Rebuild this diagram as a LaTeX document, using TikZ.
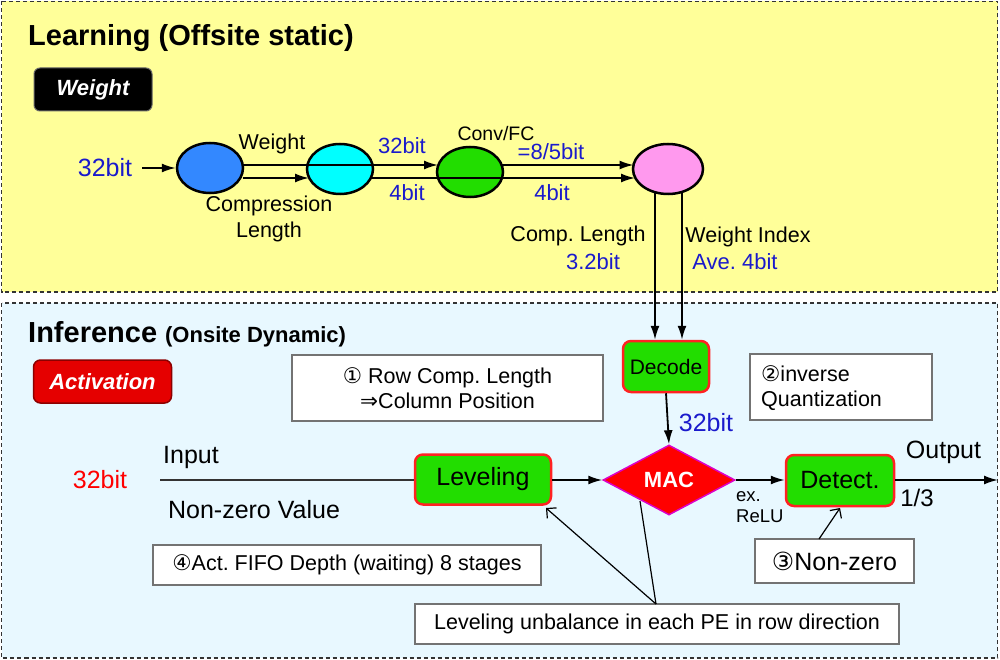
\documentclass[tikz,border=0pt]{standalone}
\usepackage{fontspec}
\setmainfont{Liberation Sans}
\newfontfamily\symf{DejaVu Sans}
\usetikzlibrary{arrows.meta,shapes.geometric}
\newcommand{\fsz}[2]{\fontsize{#1}{#2}\selectfont}
\frenchspacing
\definecolor{panelyel}{RGB}{255,255,153}
\definecolor{panelblu}{RGB}{232,248,255}
\definecolor{bluetxt}{RGB}{26,26,204}
\definecolor{ellblue}{RGB}{51,136,255}
\definecolor{ellcyan}{RGB}{0,255,255}
\definecolor{ellgreen}{RGB}{34,221,0}
\definecolor{ellpink}{RGB}{255,153,238}
\definecolor{boxgreen}{RGB}{34,221,0}
\definecolor{boxred}{RGB}{255,34,34}
\definecolor{macred}{RGB}{255,0,0}
\definecolor{macedge}{RGB}{220,0,200}
\begin{document}
\begin{tikzpicture}[x=1pt,y=-1pt,
  lbl/.style={inner sep=0pt,text=black,font=\fsz{21.5}{25}},
  blu/.style={inner sep=0pt,text=bluetxt,font=\fsz{22}{26}},
  ell/.style={ellipse,draw=black,line width=2.5pt,minimum width=66pt,minimum height=50pt,inner sep=0pt},
  gbox/.style={draw=boxred,fill=boxgreen,line width=2.5pt,rounded corners=8pt,inner sep=0pt},
  nbox/.style={draw=black!55,fill=white,line width=1.3pt,inner sep=0pt},
  conn/.style={line width=1.8pt,-{Latex[length=14pt,width=9pt]}},
  lead/.style={line width=1.2pt,-{Straight Barb[length=7pt,width=14pt]}},
  panel/.style={draw=black!80,dash pattern=on 4pt off 3pt,line width=1.3pt}]
\useasboundingbox (0,0) rectangle (1000,660);
% panels
\path[panel,fill=panelyel] (1.5,1.5) rectangle (997.5,292);
\path[panel,fill=panelblu] (1.5,303) rectangle (997.5,658);
% ---------- Learning ----------
\node[anchor=base west,inner sep=0pt,font=\fsz{29}{34}\bfseries] (ttl1) at (28,46) {Learning (Offsite static)};
\node[fill=black,draw=black!60,line width=1pt,rounded corners=6pt,minimum width=118pt,minimum height=43pt,inner sep=0pt,text=white,font=\fsz{22}{26}\bfseries\itshape] (wbtn) at (93,89.5) {Weight};
\node[blu,font=\fsz{25}{30}] (in32) at (105,168) {32bit};
\node[ell,fill=ellblue] (e1) at (210,168) {};
\node[ell,fill=ellcyan] (e2) at (340,169) {};
\node[ell,fill=ellgreen] (e3) at (470,172) {};
\node[ell,fill=ellpink,minimum width=70pt] (e4) at (668,169) {};
\coordinate (u1s) at (243,165);
\coordinate (u1e) at (438,165);
\coordinate (l1s) at (242.5,178);
\coordinate (l1e) at (309,178);
\coordinate (l2s) at (371,178);
\coordinate (l2e) at (635,178);
\coordinate (u2s) at (502,165);
\coordinate (u2e) at (633.5,165);
\draw[conn] (in32.east) ++(10,0) coordinate (ins) (ins) -- (e1.west);
\draw[conn] (u1s) -- (u1e);
\draw[conn] (l1s) -- (l1e);
\draw[conn] (l2s) -- (l2e);
\draw[conn] (u2s) -- (u2e);
\node[lbl] (lw) at (272,144) {Weight};
\node[lbl,align=center,font=\fsz{21.5}{26}] (lcl) at (269,219) {Compression\\Length};
\node[blu] (l32a) at (402,146) {32bit};
\node[blu] (l4a) at (407,193) {4bit};
\node[lbl,font=\fsz{19.5}{23}] (lcf) at (496,134) {Conv/FC};
\node[blu] (l85) at (551,152) {=8/5bit};
\node[blu] (l4b) at (552,193) {4bit};
\node[lbl] (lcomp) at (578,236) {Comp. Length};
\node[blu] (l32b) at (593,262) {3.2bit};
\node[lbl] (lwi) at (748,237) {Weight Index};
\node[blu] (lave) at (735,262) {Ave. 4bit};
% ---------- Inference ----------
\node[anchor=base west,inner sep=0pt] (ttl2) at (28,342) {{\fsz{29}{34}\bfseries Inference}\hspace{8pt}{\fsz{22}{26}\bfseries (Onsite Dynamic)}};
\node[fill=red!90!black,draw=red!55!black,line width=1.5pt,rounded corners=7pt,minimum width=138pt,minimum height=43pt,inner sep=0pt,text=white,font=\fsz{22}{26}\bfseries\itshape] (abtn) at (102.5,381.5) {Activation};
\node[gbox,minimum width=86pt,minimum height=51pt,font=\fsz{21}{25}] (dec) at (666,366.5) {Decode};
\coordinate (p1) at (655,192);
\coordinate (p2) at (682,192);
\draw[conn] (p1) -- (p1 |- dec.north);
\draw[conn] (p2) -- (p2 |- dec.north);
\node[nbox,minimum width=311pt,minimum height=66pt,align=center,font=\fsz{21.5}{25}] (b1) at (447.5,388) {{\symf\char"2460}\ Row Comp. Length\\{\symf\char"21D2}Column Position};
\node[nbox,minimum width=182pt,minimum height=66pt] (b2) at (841,387) {};
\node[lbl,anchor=west,align=left] (b2t) at (761,388.5) {{\symf\char"2461}inverse\\Quantization};
\node[diamond,fill=macred,draw=macedge,line width=1.5pt,aspect=1.886,minimum width=132pt,minimum height=70pt,inner sep=0pt,text=white,font=\fsz{22}{26}\bfseries] (mac) at (669,480) {MAC};
\draw[conn] (dec.south) -- (mac.north);
\node[blu,font=\fsz{25}{30}] (l32c) at (706,423) {32bit};
\node[inner sep=0pt,text=macred,font=\fsz{25}{30}] (in32r) at (100,480) {32bit};
\node[gbox,minimum width=136pt,minimum height=50pt,font=\fsz{25}{30}] (lev) at (483,479.5) {Leveling};
\coordinate (ins2) at (160,480);
\draw[line width=1.8pt,black!80] (ins2) -- (lev.west |- ins2);
\node[lbl,font=\fsz{25}{30}] (linp) at (191,457) {Input};
\node[lbl,font=\fsz{25}{30}] (lnz) at (254,510) {Non-zero Value};
\draw[conn] (lev.east |- mac.west) -- (mac.west);
\node[gbox,minimum width=108pt,minimum height=51pt,font=\fsz{25}{30}] (det) at (840,480.5) {Detect.};
\draw[conn] (mac.east) -- (det.west |- mac.east);
\coordinate (outp) at (998,480);
\draw[conn] (det.east |- outp) -- (outp);
\node[lbl,font=\fsz{25}{30}] (lout) at (943.5,452) {Output};
\node[lbl,font=\fsz{24}{29}] (l13) at (917,498) {1/3};
\node[lbl,anchor=west,align=left,font=\fsz{18.5}{21}] (lrelu) at (736,507) {ex.\\ReLU};
\node[nbox,minimum width=159pt,minimum height=44pt,font=\fsz{25}{30}] (b3) at (834.5,561) {{\symf\char"2462}Non-zero};
\coordinate (b3a) at (819,539);
\coordinate (deta) at (840,508);
\draw[lead] (b3a) -- (deta);
\node[nbox,minimum width=388pt,minimum height=40pt,font=\fsz{21.5}{25}] (b4) at (347,565) {{\symf\char"2463}Act. FIFO Depth (waiting) 8 stages};
\node[nbox,minimum width=484pt,minimum height=40pt,font=\fsz{21.5}{25}] (bu) at (657,624) {Leveling unbalance in each PE in row direction};
\coordinate (apx) at (656,604);
\coordinate (leva) at (546,508);
\coordinate (maca) at (640,501);
\draw[lead] (apx) -- (leva);
\draw[line width=1.2pt] (apx) -- (maca);
\end{tikzpicture}
\end{document}
